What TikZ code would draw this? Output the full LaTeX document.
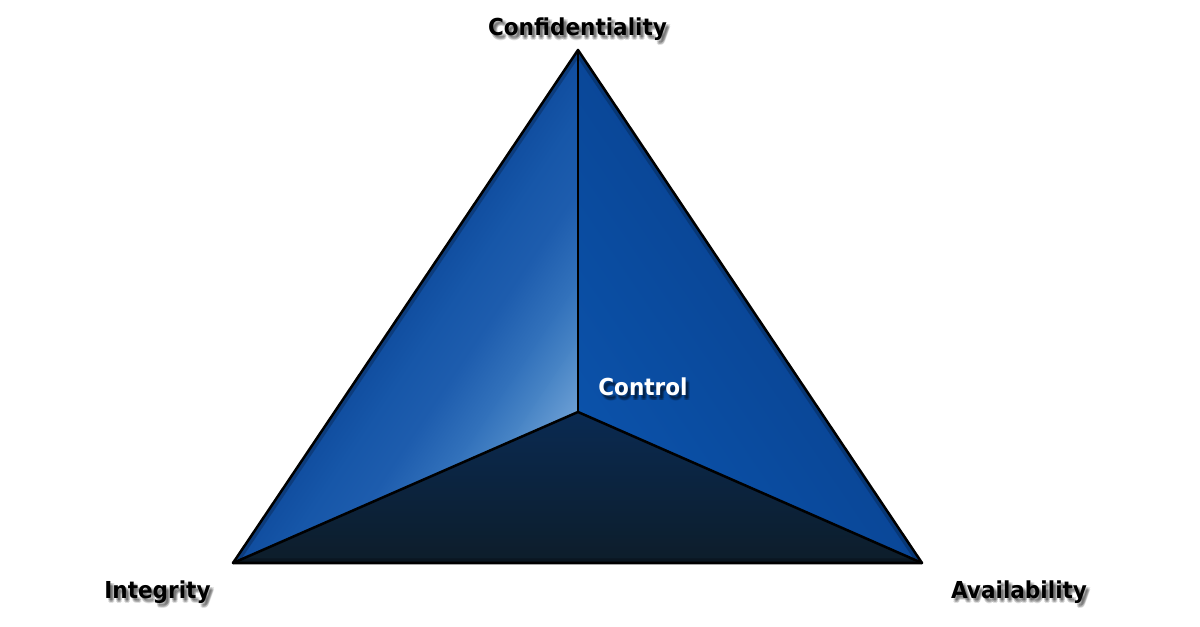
\documentclass[tikz,border=0pt]{standalone}
\usepackage{fontspec}
\setmainfont{DejaVu Sans}
\definecolor{lc0}{HTML}{0E4A9C}
\definecolor{lc1}{HTML}{1656A8}
\definecolor{lc2}{HTML}{1E5DAE}
\definecolor{lc3}{HTML}{3473BC}
\definecolor{lc4}{HTML}{4A86C6}
\definecolor{lc5}{HTML}{6EA0D5}
\definecolor{rightlight}{HTML}{0B52AA}
\definecolor{rightdark}{HTML}{083C86}
\definecolor{bottop}{HTML}{0A2A52}
\definecolor{botbottom}{HTML}{0D1D2A}
\tikzset{
  labeltext/.style={font=\fontsize{17.5pt}{20pt}\selectfont\bfseries, inner sep=0pt, anchor=base},
  edgeline/.style={draw=black, line width=1.9pt, line join=round},
  innershadow/.style={draw=black, line width=7pt, opacity=0.22}
}
\newcommand{\shadowlabel}[4]{%
  \foreach \dx/\dy in {2/2,3/3,4/4,2/4,4/2,3/5}{
    \node[labeltext, text=black, opacity=0.12] at ([xshift=\dx*0.75pt,yshift=-\dy*0.75pt]#1) {\scalebox{0.925}[1]{#3}};
  }
  \node[labeltext, text=#4] (#2) at (#1) {\scalebox{0.925}[1]{#3}};
}
\begin{document}
\begin{tikzpicture}[x=0.75pt,y=-0.75pt]
\useasboundingbox (0,0) rectangle (1200,627);
\coordinate (apex) at (578,50);
\coordinate (ctr) at (578,412);
\coordinate (bl) at (233,563);
\coordinate (br) at (922,563);
% left face: piecewise linear gradient perpendicular to the left edge
\begin{scope}
  \clip (apex) -- (ctr) -- (bl) -- cycle;
  \fill[lc1] (apex) -- (ctr) -- (bl) -- cycle;
  \begin{scope}[transform canvas={shift={(ctr)}, rotate=-33.9}]
    \shade[left color=lc0, right color=lc1] (-215,-800) rectangle (-168,800);
    \shade[left color=lc1, right color=lc2] (-170,-800) rectangle (-120,800);
    \shade[left color=lc2, right color=lc3] (-122,-800) rectangle (-70,800);
    \shade[left color=lc3, right color=lc4] (-72,-800) rectangle (-38,800);
    \shade[left color=lc4, right color=lc5] (-40,-800) rectangle (2,800);
    \fill[lc5] (0,-800) rectangle (20,800);
  \end{scope}
\end{scope}
% right face
\shade[top color=rightdark, bottom color=rightlight, shading angle=-56] (apex) -- (br) -- (ctr) -- cycle;
% bottom face
\shade[top color=bottop, bottom color=botbottom] (ctr) -- (br) -- (bl) -- cycle;
% inner shadow along outer edges
\begin{scope}
  \clip (apex) -- (br) -- (bl) -- cycle;
  \draw[innershadow] (apex) -- (br) -- (bl) -- cycle;
\end{scope}
% edges
\draw[edgeline] (apex) -- (br) -- (bl) -- cycle;
\draw[edgeline] (apex) -- (ctr);
\draw[edgeline] (bl) -- (ctr) -- (br);
% labels
\coordinate (confpos) at (577.5,36);
\coordinate (intpos) at (157.5,598);
\coordinate (avpos) at (1019,598);
\coordinate (ctrlpos) at (643,396);
\shadowlabel{confpos}{conf}{Confidentiality}{black}
\shadowlabel{intpos}{integ}{Integrity}{black}
\shadowlabel{avpos}{avail}{Availability}{black}
\shadowlabel{ctrlpos}{control}{Control}{white}
\end{tikzpicture}
\end{document}
